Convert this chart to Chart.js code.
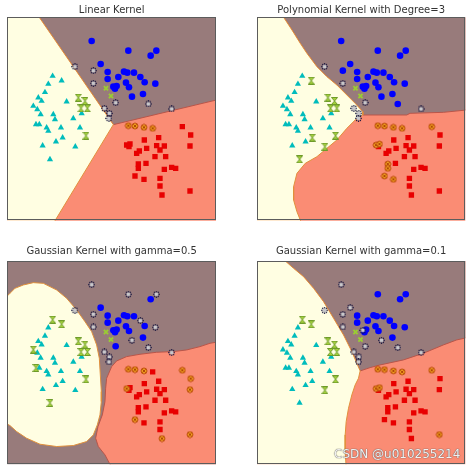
<!DOCTYPE html>
<html>
<head>
<meta charset="utf-8">
<script src="https://cdn.jsdelivr.net/npm/chart.js@4"></script>
<style>
  body { margin: 0; background: #fff; width: 474px; height: 470px; position: relative; overflow: hidden; font-family: 'DejaVu Sans', sans-serif }
  canvas { position: absolute }
  .mark { position: absolute; left: 334px; top: 447px; font-size: 12px; color: rgba(255,255,255,0.92); text-shadow: 0 0 1px #555, 0 0 1px #555; white-space: nowrap }
</style>
</head>
<body>
<canvas id="c0" width="237" height="235" style="left:0;top:0"></canvas>
<canvas id="c1" width="237" height="235" style="left:237px;top:0"></canvas>
<canvas id="c2" width="237" height="235" style="left:0;top:235px"></canvas>
<canvas id="c3" width="237" height="235" style="left:237px;top:235px"></canvas>
<div class="mark">CSDN @u010255214</div>
<script>
const TITLES = ['Linear Kernel', 'Polynomial Kernel with Degree=3', 'Gaussian Kernel with gamma=0.5', 'Gaussian Kernel with gamma=0.1']
const X_MAX = 62.6, Y_MAX = 61

// class 0 (blue circles)
const bluePts = [[25.3,53.9],[36.3,51.0],[44.7,51.0],[43.0,49.5],[28.0,47.0],[30.1,44.6],[35.0,44.7],[36.0,44.4],[38.0,44.4],[39.9,43.1],
  [33.3,43.1],[30.1,42.5],[35.6,41.4],[41.2,41.5],[44.4,41.1],[31.8,40.2],[32.8,40.4],[32.3,39.6],[36.5,40.0],[40.7,38.0],
  [37.4,37.2],[20.3,46.2],[25.8,45.0],[25.8,41.2],[32.5,35.4],[42.3,35.0],[49.3,33.5],[29.1,33.7],[30.6,32.2],[30.5,30.7]]
// class 1 (cyan triangles)
const cyanPts = [[13.6,43.4],[16.3,42.0],[12.3,41.0],[11.3,38.5],[9.3,36.9],[10.3,35.9],[7.8,34.4],[9.0,33.4],[10.0,31.9],[17.8,35.7],
  [13.8,31.9],[14.3,30.4],[19.8,30.7],[22.3,32.2],[8.6,28.9],[9.6,28.9],[11.8,27.9],[12.3,26.9],[16.1,27.9],[21.8,27.9],
  [16.6,24.9],[14.6,23.7],[10.6,22.5],[20.4,22.2],[12.8,18.4],[21.3,36.9],[23.3,35.9],[22.1,33.7],[24.0,33.7],[23.6,25.5]]
const cyanCross = [[29.6,39.7],[31.1,37.4]]
// class 2 (red squares)
const redPts = [[52.5,28.2],[55.0,25.7],[54.8,22.4],[41.1,24.2],[45.4,24.9],[35.8,22.7],[36.8,23.0],[36.5,22.2],[41.8,21.7],[44.8,22.5],
  [47.1,22.4],[45.8,21.2],[39.6,20.9],[38.8,20.2],[44.3,19.2],[47.5,19.2],[39.3,17.0],[41.6,17.2],[39.3,15.7],[49.3,16.0],
  [50.5,15.7],[47.1,15.4],[38.3,13.4],[41.0,12.4],[45.8,12.7],[45.8,10.4],[54.8,8.9],[46.4,7.7],[36.3,28.5],[38.3,28.4],
  [41.0,28.0],[43.6,27.7]]

// support vectors per plot (indices into the arrays above)
const blueSV = [[21,22,23,24,25,26,27,28,29], [21,23,24,26,27,28,29], [0,1,2,9,14,20,21,22,23,25,26,27,28,29], [0,4,15,20,21,22,23,24,25,26,27,28,29]]
const cyanSV = [[25,26,27,28,29], [1,20,23,24,25,26,27,28,29], [0,1,6,14,24,25,26,27,28,29], [0,1,23,25,26,27,28,29]]
const redSV = [[28,29,30,31], [28,29,30,31,0,5,6,16,18,22,23], [28,29,30,0,1,2,5,22,26,27], [28,29,30,31,0,5,6,26]]

// decision boundaries: yellow|brown, yellow|salmon, brown|salmon
const linYB = [[8.9,62],[31.8,28.8]]
const linYS = [[31.8,28.8],[13.7,-1]]
const linBS = [[31.8,28.8],[64,36.5]]
const polyYB = [[7.4,62],[8,61],[10.5,57.2],[13,53.2],[15,50.2],[18,46.2],[21,43.2],[24,40.7],[27,37.7],[29.5,35.2],[31.8,32.7],[31.8,31.7]]
const polyYS = [[31.8,31.7],[29.5,30.2],[27,27.7],[24,24.2],[21,21.7],[18,19.2],[14.5,17.2],[12,14.2],[11,10.2],[11,6.2],[12,2.7],[13.5,-1]]
const polyBS = [[31.8,31.7],[45,31.7],[46,32.2],[56,32.5],[64,33.3]]
const g01YB = [[7.7,62],[8.5,61],[11,58.8],[14,56.3],[17,52.8],[20,48.8],[23,43.8],[26,38.8],[28.5,33.8],[30,30.3],[31,28]]
const g01YS = [[31,28],[30.5,25.8],[29.5,23.8],[28.5,20.8],[27.5,16.8],[26.8,12.8],[26.5,8.8],[26.5,3.8],[26.8,-1]]
const g01BS = [[31,28],[34,29],[37,29.8],[44,31.3],[50,33.3],[56,35.8],[60,37.3],[64,38.2]]
const g05Salmon = [[64,36.8],[62.6,36.6],[60.8,36.3],[57.8,35.3],[53.8,34.3],[49.8,33.8],[44.8,33.6],[39.8,33],[35.8,32.3],[32.8,31],
  [31.3,29.3],[29.8,25.8],[29.5,22.8],[29.3,18.8],[28.5,14.8],[27.2,11.3],[26.5,7.8],[27.3,5.3],[29.3,2.8],[31.3,-1],[64,-1]]
const g05Yellow = [[-1,49.5],[0.8,51.3],[2.3,52.8],[4.8,53.8],[7.8,54.5],[10.8,54.3],[14.8,52.3],[17.8,49.8],[20.8,46.3],[23.3,42.8],
  [25.3,39.8],[26.8,35.8],[27.6,31.8],[27.9,26.8],[28.2,21.8],[28.2,18.8],[27.8,14.8],[27,11.8],[25.8,8.8],[23.8,6.8],
  [19.8,5.6],[14.8,5.3],[9.8,6],[5.8,7.8],[2.8,9.8],[0.8,11.6],[-1,12.6]]

const YELLOW = '#fffee2', BROWN = '#987b7b', SALMON = '#fa8c74'
const YELLOW_EDGE = '#e0903c', BROWN_EDGE = '#b8564a'

function sprite(w, h, draw) {
  const c = document.createElement('canvas')
  c.width = w; c.height = h
  draw(c.getContext('2d'))
  return c
}
const dotImg = sprite(7, 7, g => {
  g.fillStyle = '#c8c8cc'; g.beginPath(); g.arc(3.5, 3.5, 2, 0, Math.PI * 2); g.fill()
  g.fillStyle = '#10103c'
  ;[[3.5,0.8],[3.5,6.2],[0.8,3.5],[6.2,3.5],[1.6,1.6],[5.4,1.6],[1.6,5.4],[5.4,5.4]].forEach(([x, y]) => {
    g.beginPath(); g.arc(x, y, 0.75, 0, Math.PI * 2); g.fill()
  })
})
const hourImg = sprite(7, 8, g => {
  g.fillStyle = '#a6d23a'; g.strokeStyle = '#6e9a2a'; g.lineWidth = 1
  g.beginPath(); g.moveTo(0.5, 0.5); g.lineTo(6.5, 0.5); g.lineTo(3.5, 4); g.lineTo(6.5, 7.5); g.lineTo(0.5, 7.5); g.lineTo(3.5, 4); g.closePath()
  g.fill(); g.stroke()
})
const ringImg = sprite(8, 8, g => {
  g.fillStyle = '#f0a020'; g.strokeStyle = '#c05010'; g.lineWidth = 1
  g.beginPath(); g.arc(4, 4, 3, 0, Math.PI * 2); g.fill(); g.stroke()
  g.strokeStyle = '#a03000'; g.lineWidth = 0.8
  g.beginPath(); g.moveTo(2.3, 2.3); g.lineTo(5.7, 5.7); g.moveTo(5.7, 2.3); g.lineTo(2.3, 5.7); g.stroke()
})

const toXY = pts => pts.map(([x, y]) => ({ x, y }))
const pick = (pts, idx, sv) => toXY(pts.filter((_, i) => idx.includes(i) === sv))

function area(pts, color, edge, order) {
  return { data: toXY(pts), showLine: true, fill: 'shape', backgroundColor: color, borderColor: edge,
    borderWidth: 1, pointRadius: 0, tension: 0, order }
}

function threeWay(yb, ys, bs) {
  const yellow = [[-1, 62]].concat(yb, ys.slice(1), [[-1, -1]])
  const brown = [[64, 62]].concat(bs.slice().reverse(), yb.slice(0, -1).reverse())
  return [area(yellow, YELLOW, YELLOW_EDGE, 10), area(brown, BROWN, BROWN_EDGE, 11)]
}

function markers(k) {
  return [
    { data: pick(bluePts, blueSV[k], false), pointStyle: 'circle', pointRadius: 3.3, backgroundColor: '#0000ff', borderWidth: 0, order: 1 },
    { data: pick(bluePts, blueSV[k], true), pointStyle: dotImg, pointRadius: 3, order: 0 },
    { data: pick(cyanPts, cyanSV[k], false), pointStyle: 'triangle', pointRadius: 3.6, backgroundColor: '#00bcbc', borderWidth: 0, order: 1 },
    { data: pick(cyanPts, cyanSV[k], true), pointStyle: hourImg, pointRadius: 3, order: 0 },
    { data: toXY(cyanCross), pointStyle: 'crossRot', pointRadius: 3, borderColor: '#9acd32', borderWidth: 1.8, order: 0 },
    { data: pick(redPts, redSV[k], false), pointStyle: 'rect', pointRadius: 3.8, backgroundColor: '#e80000', borderWidth: 0, order: 1 },
    { data: pick(redPts, redSV[k], true), pointStyle: ringImg, pointRadius: 3, order: 0 },
  ]
}

const frame = {
  id: 'frame',
  beforeDatasetsDraw(chart, args, opts) {
    const { left, top, width, height } = chart.chartArea
    const ctx = chart.ctx
    ctx.save(); ctx.fillStyle = opts.base; ctx.fillRect(left, top, width, height); ctx.restore()
  },
  afterDatasetsDraw(chart) {
    const { left, top, width, height } = chart.chartArea
    const ctx = chart.ctx
    ctx.save(); ctx.strokeStyle = '#5c5c5c'; ctx.lineWidth = 1
    ctx.strokeRect(Math.round(left) + 0.5, Math.round(top) + 0.5, Math.round(width) - 1, Math.round(height) - 1); ctx.restore()
  }
}

const regions = [
  threeWay(linYB, linYS, linBS),
  threeWay(polyYB, polyYS, polyBS),
  [area(g05Yellow, YELLOW, YELLOW_EDGE, 10), area(g05Salmon, SALMON, BROWN_EDGE, 11)],
  threeWay(g01YB, g01YS, g01BS),
]
const bases = [SALMON, SALMON, BROWN, SALMON]
const pads = [
  { left: 7.3, right: 21, top: 3, bottom: 14.3 },
  { left: 20, right: 8.7, top: 3, bottom: 14.3 },
  { left: 7.3, right: 21, top: 9.7, bottom: 5.7 },
  { left: 20, right: 8.7, top: 9.7, bottom: 5.7 },
]
const titlePads = [{ top: 1, bottom: 1.3 }, { top: 1, bottom: 1.3 }, { top: 1, bottom: 3.3 }, { top: 1, bottom: 3.3 }]

TITLES.forEach((text, k) => {
  new Chart(document.getElementById('c' + k), {
    type: 'scatter',
    data: { datasets: [...regions[k], ...markers(k)] },
    options: {
      responsive: false,
      animation: false,
      devicePixelRatio: 1,
      layout: { padding: pads[k] },
      scales: {
        x: { type: 'linear', min: 0, max: X_MAX, display: false },
        y: { type: 'linear', min: 0, max: Y_MAX, display: false },
      },
      plugins: {
        legend: { display: false },
        tooltip: { enabled: false },
        title: { display: true, text, color: '#333', font: { family: 'DejaVu Sans', size: 10, weight: 'normal' }, padding: titlePads[k] },
        frame: { base: bases[k] },
      },
    },
    plugins: [frame],
  })
})
</script>
</body>
</html>
